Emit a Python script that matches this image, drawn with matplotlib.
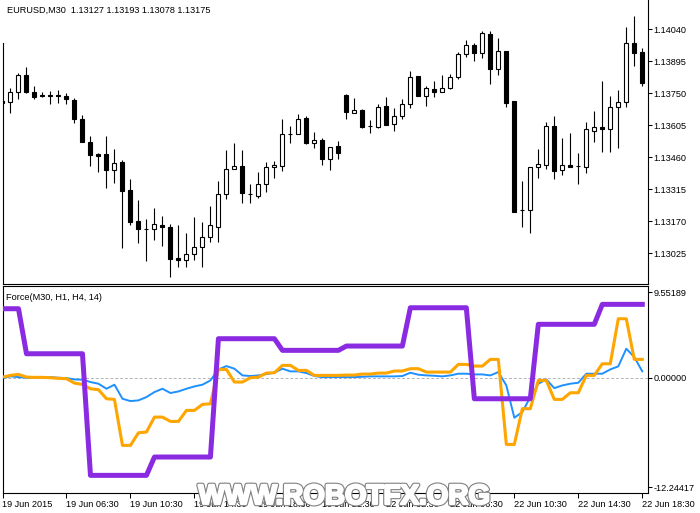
import numpy as np
import matplotlib
matplotlib.use("Agg")
import matplotlib.pyplot as plt
from matplotlib import patheffects as pe

FONT = "Liberation Sans"

title_text = "EURUSD,M30  1.13127 1.13193 1.13078 1.13175"
indicator_title = "Force(M30, H1, H4, 14)"
watermark = "WWW.ROBOTFX.ORG"

opens = [1.13713, 1.13709, 1.13757, 1.13833, 1.13757, 1.13744, 1.13742, 1.13744, 1.13738, 1.13720,
         1.13632, 1.13528, 1.13475, 1.13474, 1.13401, 1.13440, 1.13312, 1.13173, 1.13134, 1.13134,
         1.13153, 1.13143, 1.13004, 1.12993, 1.13021, 1.13055, 1.13100, 1.13146, 1.13292, 1.13406,
         1.13421, 1.13294, 1.13286, 1.13338, 1.13415, 1.13422, 1.13564, 1.13564, 1.13637, 1.13526,
         1.13538, 1.13454, 1.13511, 1.13742, 1.13662, 1.13674, 1.13602, 1.13599, 1.13692, 1.13610,
         1.13649, 1.13700, 1.13828, 1.13739, 1.13768, 1.13757, 1.13775, 1.13823, 1.13928, 1.13969,
         1.13931, 1.14017, 1.13859, 1.13942, 1.13715, 1.13220, 1.13220, 1.13415, 1.13425, 1.13601,
         1.13403, 1.13425, 1.13421, 1.13417, 1.13581, 1.13596, 1.13587, 1.13687, 1.13709, 1.13977,
         1.13937]
highs = [1.13729, 1.13773, 1.13843, 1.13871, 1.13783, 1.13757, 1.13762, 1.13765, 1.13750, 1.13730,
         1.13652, 1.13557, 1.13481, 1.13557, 1.13498, 1.13448, 1.13360, 1.13267, 1.13179, 1.13230,
         1.13194, 1.13158, 1.13153, 1.13116, 1.13191, 1.13165, 1.13241, 1.13353, 1.13493, 1.13524,
         1.13493, 1.13339, 1.13392, 1.13437, 1.13443, 1.13634, 1.13602, 1.13656, 1.13647, 1.13576,
         1.13546, 1.13505, 1.13534, 1.13747, 1.13727, 1.13679, 1.13629, 1.13700, 1.13732, 1.13682,
         1.13723, 1.13851, 1.13828, 1.13783, 1.13807, 1.13833, 1.13838, 1.13939, 1.13992, 1.13977,
         1.14034, 1.14032, 1.14001, 1.13942, 1.13715, 1.13353, 1.13415, 1.13496, 1.13619, 1.13649,
         1.13546, 1.13569, 1.13478, 1.13619, 1.13670, 1.13806, 1.13738, 1.13765, 1.14052, 1.14100,
         1.13954]
lows = [1.13692, 1.13659, 1.13723, 1.13750, 1.13723, 1.13732, 1.13700, 1.13707, 1.13700, 1.13614,
        1.13528, 1.13422, 1.13395, 1.13320, 1.13342, 1.13050, 1.13153, 1.13070, 1.12991, 1.13085,
        1.13059, 1.12916, 1.12964, 1.12964, 1.12995, 1.12962, 1.13078, 1.13078, 1.13271, 1.13406,
        1.13252, 1.13252, 1.13274, 1.13304, 1.13365, 1.13399, 1.13526, 1.13564, 1.13519, 1.13504,
        1.13425, 1.13403, 1.13452, 1.13634, 1.13662, 1.13594, 1.13569, 1.13594, 1.13606, 1.13579,
        1.13634, 1.13682, 1.13738, 1.13694, 1.13735, 1.13757, 1.13770, 1.13814, 1.13916, 1.13898,
        1.13909, 1.13792, 1.13833, 1.13687, 1.13211, 1.13146, 1.13116, 1.13365, 1.13406, 1.13360,
        1.13380, 1.13417, 1.13339, 1.13388, 1.13531, 1.13485, 1.13485, 1.13504, 1.13689, 1.13875,
        1.13783]
closes = [1.13708, 1.13757, 1.13833, 1.13757, 1.13735, 1.13736, 1.13740, 1.13738, 1.13723, 1.13632,
          1.13528, 1.13469, 1.13467, 1.13401, 1.13433, 1.13309, 1.13168, 1.13134, 1.13136, 1.13158,
          1.13143, 1.12998, 1.12993, 1.13022, 1.13055, 1.13100, 1.13153, 1.13292, 1.13407, 1.13421,
          1.13297, 1.13296, 1.13338, 1.13415, 1.13425, 1.13564, 1.13564, 1.13634, 1.13526, 1.13538,
          1.13454, 1.13505, 1.13481, 1.13667, 1.13674, 1.13596, 1.13602, 1.13687, 1.13606, 1.13649,
          1.13700, 1.13825, 1.13738, 1.13773, 1.13757, 1.13773, 1.13823, 1.13928, 1.13969, 1.13931,
          1.14022, 1.13859, 1.13940, 1.13707, 1.13214, 1.13220, 1.13415, 1.13430, 1.13601, 1.13399,
          1.13425, 1.13417, 1.13421, 1.13588, 1.13596, 1.13587, 1.13687, 1.13709, 1.13977, 1.13934,
          1.13798]

force_m30 = [-0.04, 0.15, 0.07, 0.0, 0.0, 0.0, 0.07, 0.0, -0.04, -0.19,
             -0.22, -0.48, -0.67, -1.23, -0.78, -2.35, -2.61, -2.53, -2.16, -1.60,
             -1.23, -1.71, -1.53, -1.23, -0.97, -0.78, -0.30, 0.93, 1.30, 1.01,
             0.26, 0.19, 0.26, 0.41, 0.56, 1.01, 0.71, 0.71, 0.52, 0.19,
             0.07, 0.07, 0.07, 0.07, 0.07, 0.11, 0.15, 0.15, 0.15, 0.15,
             0.19, 0.56, 0.34, 0.26, 0.22, 0.15, 0.26, 0.45, 0.45, 0.37,
             0.37, 0.26, 0.63, -0.86, -4.47, -3.84, -2.16, -0.67, -0.19, -1.16,
             -0.86, -0.67, -0.56, 0.45, 0.45, 0.45, 0.93, 1.27, 3.24, 2.31,
             0.71]
force_h1 = [0.07, 0.26, 0.37, 0.07, 0.04, 0.04, 0.0, -0.07, -0.11, -0.60,
            -0.75, -1.23, -1.34, -2.35, -2.42, -7.56, -7.56, -6.15, -6.07, -4.40,
            -4.40, -4.88, -4.88, -3.65, -3.65, -2.98, -2.91, 0.93, 0.93, -0.48,
            -0.48, 0.0, 0.07, 0.52, 0.56, 1.38, 1.38, 0.82, 0.82, 0.26,
            0.26, 0.26, 0.26, 0.30, 0.30, 0.41, 0.41, 0.52, 0.52, 0.75,
            0.75, 1.01, 1.01, 0.63, 0.63, 0.63, 0.63, 1.49, 1.49, 1.30,
            1.30, 2.05, 2.05, -7.45, -7.45, -3.46, -3.46, -0.30, -0.30, -2.42,
            -2.42, -1.68, -1.68, 0.26, 0.26, 1.56, 1.56, 6.59, 6.59, 2.05,
            2.05]
force_h4_values = [7.71, 2.68, -10.91, -8.86, 4.36, 3.06, 3.54, 7.82, -2.35, 5.97, 8.20]
force_h4_bars = [3, 8, 8, 8, 8, 8, 8, 8, 8, 8, 6]

price_ticks = [1.14040, 1.13895, 1.13750, 1.13605, 1.13460, 1.13315, 1.13170, 1.13025]
force_ticks = [9.55189, 0.0, -12.24417]
force_tick_labels = ["9.55189", "0.00000", "-12.24417"]
time_tick_pos = list(range(0, 81, 8))
time_tick_labels = ["19 Jun 2015", "19 Jun 06:30", "19 Jun 10:30", "19 Jun 14:30",
                    "19 Jun 18:30", "19 Jun 22:30", "22 Jun 02:30", "22 Jun 06:30",
                    "22 Jun 10:30", "22 Jun 14:30", "22 Jun 18:30"]

O = np.array(opens); H = np.array(highs); L = np.array(lows); C = np.array(closes)
n = len(O)
x = np.arange(n)
h4 = np.repeat(force_h4_values, force_h4_bars)

W, Hpx = 700, 513
fig = plt.figure(figsize=(W / 100, Hpx / 100), dpi=100)
fig.patch.set_facecolor("white")

def fx(px):
    return px / W

def fy(py):
    return 1 - py / Hpx

left_px, right_px = 2.5, 647.8
ax1 = fig.add_axes([fx(left_px), fy(283.5), fx(right_px - left_px), 283.5 / Hpx])
ax2 = fig.add_axes([fx(left_px), fy(493), fx(right_px - left_px), (493 - 286) / Hpx])

xlim = (0.025, 80.69)

# ---- price pane ----
ax1.set_xlim(*xlim)
ax1.set_ylim(1.128882, 1.141728)
ax1.vlines(x, L, H, color="black", lw=0.8, zorder=2)
up = C >= O
ax1.bar(x, np.abs(C - O), bottom=np.minimum(O, C), width=0.52,
        color=np.where(up, "white", "black"), edgecolor="black", linewidth=0.8, zorder=3)
ax1.set_xticks([])
ax1.yaxis.tick_right()
ax1.set_yticks(price_ticks)
ax1.set_yticklabels([f"{v:.5f}" for v in price_ticks])
ax1.tick_params(axis="y", direction="out", length=3, width=0.75, pad=1.2,
                labelsize=6.6, colors="black")
for lab in ax1.get_yticklabels():
    lab.set_family(FONT)
ax1.spines["top"].set_visible(False)
for s in ("left", "right", "bottom"):
    ax1.spines[s].set_linewidth(0.8)
ax1.spines["left"].set_bounds(1.128882, 1.13978)

# ---- indicator pane ----
ax2.set_xlim(*xlim)
ax2.set_ylim(-12.88, 10.25)
ax2.axhline(0, color="#b4b4b4", lw=0.7, ls=(0, (3, 2)), zorder=1)
ax2.plot(x, force_m30, color="#1E90FF", lw=1.4, zorder=2)
ax2.plot(x, force_h1, color="#FFA500", lw=2.2, zorder=3)
ax2.plot(x, h4, color="#8A2BE2", lw=3.6, zorder=4)
ax2.yaxis.tick_right()
ax2.set_yticks(force_ticks)
ax2.set_yticklabels(force_tick_labels)
ax2.set_xticks(time_tick_pos)
ax2.set_xticklabels(time_tick_labels)
ax2.tick_params(axis="y", direction="out", length=3, width=0.75, pad=1.2, labelsize=6.6)
ax2.tick_params(axis="x", direction="out", length=3.5, width=0.75, pad=1.5, labelsize=6.6)
for lab in ax2.get_xticklabels():
    lab.set_horizontalalignment("left")
    lab.set_family(FONT)
for lab in ax2.get_yticklabels():
    lab.set_family(FONT)
for s in ax2.spines.values():
    s.set_linewidth(0.8)

fig.text(fx(6.7), fy(10), title_text, ha="left", va="center", fontsize=6.6, family=FONT)
fig.text(fx(6), fy(297), indicator_title, ha="left", va="center", fontsize=6.6, family=FONT)

fig.text(fx(344), fy(497), watermark, ha="center", va="center", fontsize=20,
         fontweight="bold", family=FONT, color="white", zorder=20,
         path_effects=[pe.Stroke(linewidth=3.2, foreground="#808080"),
                       pe.Stroke(linewidth=1.6, foreground="white"),
                       pe.Normal()])

fig.savefig("out.png", dpi=100)
